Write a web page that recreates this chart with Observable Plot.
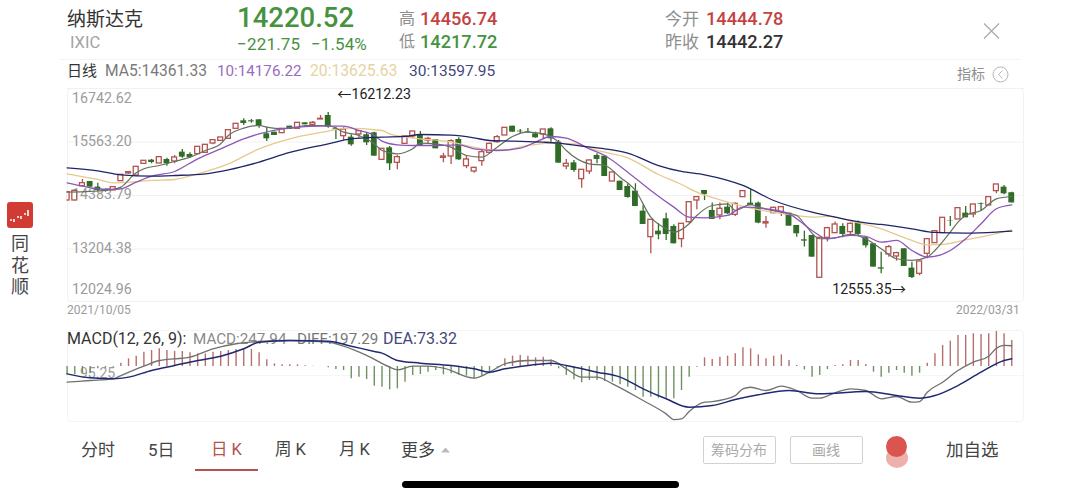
<!DOCTYPE html>
<html lang="zh">
<head>
<meta charset="utf-8">
<script src="https://cdn.jsdelivr.net/npm/d3@7"></script>
<script src="https://cdn.jsdelivr.net/npm/@observablehq/plot@0.6"></script>
<style>
html,body{margin:0;padding:0;background:#fff;width:1080px;height:499px;overflow:hidden}
body{position:relative;font-family:Roboto,"Noto Sans CJK SC",sans-serif}
.t{position:absolute;white-space:nowrap;line-height:24px;height:24px;transform:translateY(-12px)}
.box{position:absolute;box-sizing:border-box}
#main,#macd{position:absolute;left:0}
#main{top:76px}#macd{top:330px}
#main svg,#macd svg{display:block;background:transparent}
</style>
</head>
<body>
<script>
// ---- price panel data (2021/10/05 – 2022/03/31) ----
const opens=[14274,14274,14590,14693,14568,14517,14495,14700,14869,14825,15082,15163,15090,15178,15134,15340,15288,15296,15325,15531,15589,15633,15854,16030,16030,16052,15744,15780,15758,15913,15854,15986,15942,16060,16148,15854,15692,15670,15729,15722,15766,15170,15435,15104,15523,15685,15721,15596,15618,15214,15244,15618,15031,14913,15141,15325,15560,15707,15912,15802,15795,15743,15729,15854,15560,15023,15104,14744,14913,15266,15251,14693,14700,14582,14480,14039,13466,13598,13870,13701,13422,13796,14274,14495,14054,13944,14127,13958,14348,14216,14216,13767,13995,14017,13995,13723,13407,13503,12570,13451,13554,13701,13576,13782,13451,13319,12790,13084,13040,13209,12783,12658,13099,13334,13554,13819,13856,13995,13966,14201,14164,14480,14568,14444.78];
const closes=[14458,14487,14656,14568,14495,14473,14568,14840,14899,15016,15149,15112,15229,15082,15222,15229,15222,15457,15501,15604,15663,15824,15964,15971,16008,15905,15633,15707,15854,15839,15986,15942,15986,16074,15891,15832,15839,15501,15802,15545,15251,15413,15082,15229,15685,15795,15486,15633,15413,15244,15582,15170,15178,14994,15339,15523,15670,15876,15780,15787,15780,15655,15839,15633,15097,15082,14935,14950,15156,15178,14803,14891,14494,14340,14142,13745,13848,13517,13524,13319,13760,14237,14348,14407,13856,14091,13980,14201,14480,14157,13775,13797,14113,14127,13708,13540,13378,13025,13451,13664,13745,13525,13760,13525,13275,12805,12761,13246,13113,12820,12575,12930,13422,13598,13892,13811,14105,13892,14186,14186,14348,14627,14421,14220.52];
const highs=[14473,14495,14737,14693,14656,14531,14568,14840,14913,15016,15149,15178,15229,15207,15266,15398,15325,15457,15501,15604,15663,15824,15964,16074,16060,16052,15891,15780,15854,15913,15986,15986,16015,16148,16212.23,15891,15891,15722,15817,15766,15780,15413,15464,15266,15685,15795,15795,15670,15618,15317,15611,15655,15266,15009,15376,15538,15707,15876,15912,15839,15861,15780,15839,15876,15596,15178,15156,14950,15170,15302,15251,14891,14700,14641,14641,14164,13848,13760,13995,13738,13760,14237,14348,14495,14216,14216,14216,14216,14480,14509,14238,13922,14127,14142,13995,13723,13598,13503,13451,13686,13797,13760,13775,13819,13466,13319,13135,13283,13135,13209,12915,12930,13422,13598,13892,13922,14105,14142,14186,14216,14348,14627,14605,14456.74];
const lows=[14260,14260,14590,14568,14473,14458,14495,14700,14855,14825,15082,15082,15090,15031,15082,15207,15207,15296,15325,15501,15589,15633,15854,15927,15979,15869,15575,15707,15758,15839,15854,15942,15913,16060,15869,15619,15597,15472,15648,15487,15251,15170,14935,14950,15523,15633,15486,15523,15413,15104,15067,15156,14972,14876,15031,15317,15538,15707,15780,15743,15758,15648,15633,15560,15097,14950,14898,14546,14847,15082,14803,14693,14494,14325,14142,13745,13098,13407,13392,13319,13231,13774,14069,14274,13856,13848,13966,13922,14348,14157,13760,13664,13980,13922,13708,13466,13246,13025,12570,13356,13554,13451,13503,13481,13224,12805,12658,13025,12937,12820,12555.35,12614,12989,13334,13554,13701,13856,13892,13892,14039,14164,14421,14399,14217.72];

const axisValues=[16742.62,15563.20,14383.79,13204.38,12024.96];

const ma5Idx=[0,3,6,7,9,10,12,14,16,18,20,21,23,25,26,28,30,31,34,36,38,40,41,43,45,46,48,50,52,54,56,58,60,62,64,65,68,70,72,74,76,78,79,81,82,84,86,87,89,90,93,95,96,98,100,102,104,106,108,110,112,113,115,116,117,119,121,123];
const ma5Val=[14458,14473,14517,14568,14884,14972,15046,15134,15229,15376,15523,15707,15869,15927,15891,15854,15891,15927,15927,15780,15707,15523,15376,15302,15413,15538,15523,15449,15266,15229,15449,15685,15780,15743,15560,15376,15082,15045,14788,14494,13906,13649,13576,13760,13944,14164,14201,14054,14186,14127,14017,13944,13760,13430,13451,13525,13430,13209,12989,12952,13025,13172,13576,13797,13944,14054,14311,14361.33];
const ma10Idx=[0,2,4,6,7,9,11,14,17,20,23,25,28,30,33,36,38,40,41,43,45,48,51,53,56,59,61,63,65,68,70,73,76,79,81,83,86,88,91,94,97,99,102,104,106,108,110,112,115,117,119,121,123];
const ma10Val=[14664,14590,14531,14517,14531,14678,14811,14913,15193,15413,15633,15744,15854,15891,15913,15913,15817,15707,15582,15501,15486,15486,15501,15413,15376,15427,15560,15685,15648,15413,15266,14898,14494,14127,13907,13892,13944,14127,14091,13980,13613,13430,13503,13481,13356,13393,13172,13025,13172,13430,13760,14091,14176.22];
const ma20Idx=[0,4,6,8,11,14,17,21,25,29,34,36,41,42,45,50,53,55,57,60,63,66,69,73,77,80,82,85,91,94,97,99,103,106,110,112,114,117,120,123];
const ma20Val=[14862,14737,14664,14678,14715,14737,14862,15082,15413,15633,15802,15869,15817,15743,15655,15560,15449,15391,15391,15486,15538,15523,15376,15214,14847,14627,14458,14289,14039,13966,13907,13922,13782,13650,13393,13297,13305,13407,13503,13625.63];
const ma30Idx=[0,4,7,11,14,18,21,25,29,34,37,41,44,46,50,53,55,58,62,64,67,70,73,77,80,83,88,92,97,100,104,106,110,113,117,121,123];
const ma30Val=[14994,14928,14840,14811,14825,14862,14950,15119,15332,15523,15633,15670,15685,15729,15714,15655,15596,15582,15560,15538,15471,15413,15317,15045,14914,14840,14605,14274,14017,13907,13782,13745,13650,13569,13554,13576,13597.95];

// ---- MACD panel data ----
const macdBars=[-79,-79,-70,-70,-22,-16,-6,32,73,98,136,152,168,152,143,143,130,120,120,136,143,152,162,168,162,130,63,25,16,16,16,6,3,1,-13,-29,-38,-117,-101,-124,-187,-197,-222,-212,-149,-86,-76,-54,-38,-79,-70,-86,-92,-117,-92,-70,-6,73,98,105,98,82,89,63,-22,-86,-127,-155,-133,-133,-143,-149,-174,-197,-228,-292,-292,-301,-301,-307,-228,-101,-6,82,67,89,98,120,177,168,111,73,98,111,57,10,-32,-101,-86,-29,10,16,57,57,19,-54,-101,-63,-38,-63,-92,-63,32,120,200,241,295,295,311,304,311,333,311,247.94];
const diffIdx=[0,3,6,7,10,12,16,19,22,25,29,34,36,39,42,43,45,47,49,53,55,57,60,63,65,67,69,71,75,78,79,80,81,82,83,84,87,88,89,91,93,95,97,98,100,102,104,106,108,110,111,112,114,116,118,120,121,122,123];
const diffVal=[-149,-133,-117,-86,3,57,89,168,216,238,247,231,193,105,-6,-32,3,3,-16,-111,-54,25,57,57,-22,-101,-101,-165,-323,-450,-504,-498,-428,-371,-339,-333,-276,-212,-197,-228,-187,-228,-301,-301,-250,-212,-228,-307,-285,-339,-333,-244,-149,-38,41,98,174,200,197.29];
const deaIdx=[0,3,6,8,11,14,17,20,23,25,29,34,37,40,41,43,46,50,53,55,57,60,63,65,69,72,75,78,81,84,87,90,94,98,104,108,111,113,116,119,122,123];
const deaVal=[-70,-108,-117,-101,-38,10,57,98,168,231,247,241,193,143,127,57,32,10,-22,-54,-22,10,32,10,-54,-101,-212,-307,-387,-371,-314,-269,-228,-260,-238,-276,-301,-276,-181,-54,57,73.32];

// ---- labels ----
const ticksShown=["16742.62","15563.20","14383.79","13204.38","12024.96"];
const startDate="2021/10/05", endDate="2022/03/31";
const headerName="纳斯达克", headerCode="IXIC";

const colors={up:"#b2534f",down:"#2f6c27",ma5:"#66705f",ma10:"#8d57b8",ma20:"#e6c98c",ma30:"#1e2569",
  barUp:"#b4706e",barDown:"#6f9161",diff:"#6f716f",dea:"#1f2a72"};

const candles=opens.map((o,i)=>({i,o,c:closes[i],h:highs[i],l:lows[i],up:closes[i]>=o}));
const line=(idx,val)=>idx.map((x,k)=>({x,y:val[k]}));
const xDomain=[0,124.66];
const gridCol="#f1f1f1";
const axisLbl={fill:"#9b9b9b",fontSize:14.2,frameAnchor:"left",dx:5,fontFamily:"Roboto"};
const noteFont='Roboto,"Noto Sans CJK SC"';

const mainPlot=Plot.plot({
  width:1080,height:226,marginTop:12,marginBottom:0,marginLeft:66.6,marginRight:56,
  x:{domain:xDomain,axis:null},
  y:{domain:[axisValues[4],axisValues[0]],axis:null},
  marks:[
    Plot.ruleY(axisValues,{stroke:gridCol,strokeWidth:1}),
    Plot.text([0],{...axisLbl,y:()=>axisValues[0],text:()=>ticksShown[0],dy:10}),
    Plot.text([1,2,3],{...axisLbl,y:k=>axisValues[k],text:k=>ticksShown[k],dy:-1}),
    Plot.text([4],{...axisLbl,y:()=>axisValues[4],text:()=>ticksShown[4],dy:-13}),
    Plot.ruleX(candles,{x:"i",y1:"l",y2:"h",stroke:d=>d.up?colors.up:colors.down,strokeWidth:1.3,clip:true}),
    Plot.rect(candles.filter(d=>!d.up),{x1:d=>d.i-0.38,x2:d=>d.i+0.38,y1:"o",y2:"c",fill:colors.down,clip:true}),
    Plot.rect(candles.filter(d=>d.up),{x1:d=>d.i-0.32,x2:d=>d.i+0.32,y1:"o",y2:"c",fill:"#fff",stroke:colors.up,strokeWidth:1.3,clip:true}),
    Plot.line(line(ma20Idx,ma20Val),{x:"x",y:"y",stroke:colors.ma20,strokeWidth:1.3,curve:"monotone-x"}),
    Plot.line(line(ma5Idx,ma5Val),{x:"x",y:"y",stroke:colors.ma5,strokeWidth:1.2,curve:"monotone-x"}),
    Plot.line(line(ma10Idx,ma10Val),{x:"x",y:"y",stroke:colors.ma10,strokeWidth:1.3,curve:"monotone-x"}),
    Plot.line(line(ma30Idx,ma30Val),{x:"x",y:"y",stroke:colors.ma30,strokeWidth:1.3,curve:"monotone-x"}),
    Plot.text([34],{x:d=>d,y:()=>highs[34],text:()=>"←"+highs[34],textAnchor:"start",dx:9,dy:-18,fill:"#222",fontSize:14.2,fontFamily:noteFont}),
    Plot.text([110],{x:d=>d,y:()=>lows[110],text:()=>lows[110]+"→",textAnchor:"end",dx:-6,dy:11,fill:"#222",fontSize:14.2,fontFamily:noteFont})
  ]
});

const macdPlot=Plot.plot({
  width:1080,height:92,marginTop:0,marginBottom:0,marginLeft:66.6,marginRight:56,
  x:{domain:xDomain,axis:null},
  y:{domain:[-532,342],axis:null},
  marks:[
    Plot.ruleX(macdBars.map((v,i)=>({i,v})),{x:"i",y1:0,y2:"v",stroke:d=>d.v>=0?colors.barUp:colors.barDown,strokeWidth:1.4}),
    Plot.line(line(diffIdx,diffVal),{x:"x",y:"y",stroke:colors.diff,strokeWidth:1.3,curve:"monotone-x"}),
    Plot.line(line(deaIdx,deaVal),{x:"x",y:"y",stroke:colors.dea,strokeWidth:1.5,curve:"monotone-x"})
  ]
});

const add=(html)=>document.body.insertAdjacentHTML("beforeend",html);
const T=(x,y,s,size,color,extra="")=>add(`<div class="t" style="left:${x}px;top:${y}px;font-size:${size}px;color:${color};${extra}">${s}</div>`);
const BOX=(x,y,w,h,css)=>add(`<div class="box" style="left:${x}px;top:${y}px;width:${w}px;height:${h}px;${css}"></div>`);
const GREEN="#46923f", RED="#c4423f", INK="#333", GREY="#8e8e8e";

// frames
BOX(60,59,960,1,"background:#f3f3f3");
BOX(67,88,957,214,"border:1px solid #f2f2f2;border-radius:4px");
BOX(67,330,957,92,"border:1px solid #f4f4f4;border-radius:4px");
BOX(67,375,957,1,"background:#f6f6f6");

// header
T(67,20,headerName,19,INK);
T(70,43,headerCode,16.5,"#a3a3a3");
T(237,18,"14220.52",27.5,GREEN,"font-weight:500");
T(237,44,"−221.75",17,GREEN,"letter-spacing:.2px");
T(311,44,"−1.54%",17,GREEN,"letter-spacing:.1px");
T(399,19,"高",16,GREY);T(420,19,"14456.74",18.2,RED,"font-weight:500");
T(399,42,"低",16,GREY);T(420,42,"14217.72",18.2,GREEN,"font-weight:500");
T(665,19,"今开",17,GREY);T(706,19,"14444.78",18.2,RED,"font-weight:500");
T(665,42,"昨收",17,GREY);T(706,42,"14442.27",18.2,INK,"font-weight:500");
add(`<svg style="position:absolute;left:983px;top:23px" width="17" height="16"><path d="M1 0.5L16 15.5M16 0.5L1 15.5" stroke="#a9a9a9" stroke-width="1.2" fill="none"/></svg>`);
T(67,71,"日线",15,INK);
T(105,71,"MA5:14361.33",15.6,"#7a7a7a");
T(217,71,"10:14176.22",15.2,"#9a6cc0");
T(310,71,"20:13625.63",15.7,"#e6d3a3");
T(409,71,"30:13597.95",15.5,"#44477c");
T(957,74,"指标",14,GREY);
add(`<svg style="position:absolute;left:992px;top:66px" width="17" height="17"><circle cx="8.5" cy="8.5" r="7.5" stroke="#b5b5b5" fill="none"/><path d="M10.5 4.5L6.5 8.5L10.5 12.5" stroke="#b5b5b5" fill="none"/></svg>`);

// dates
T(67,310,startDate,12,"#9b9b9b");
T(956,310,endDate,12,"#9b9b9b");

// macd legend (sits under the plot)
T(67,339,"MACD(12, 26, 9):",16,"#333");
T(193,339,"MACD:247.94",15.2,"#8a8a8a");
T(297,339,"DIFF:197.29",15.2,"#777");
T(383,339,"DEA:73.32",16,"#44477c");
T(80,373,"95.25",14,"#9b9b9b");

// plots on top of the legends
const mainDiv=document.createElement("div");mainDiv.id="main";mainDiv.append(mainPlot);document.body.append(mainDiv);
const macdDiv=document.createElement("div");macdDiv.id="macd";macdDiv.append(macdPlot);document.body.append(macdDiv);

// left logo
BOX(7,202,26,26,"background:#d23b33;border-radius:3px");
add(`<svg style="position:absolute;left:9px;top:208px" width="23" height="16"><path d="M1 12h2M5 11v3M8 9h2M12 8v3M15 6h2M19 2v6" stroke="#fff" stroke-width="1.6" fill="none"/></svg>`);
T(11,244,"同",18,"#444");T(11,266,"花",18,"#444");T(11,287,"顺",18,"#444");

// bottom tabs
T(81,450,"分时",17,"#444");
T(148,450,"5日",17,"#444");
T(211,450,"日 K",16.5,"#b5524f");
BOX(195,469,63,2.2,"background:#b5524f");
T(275,450,"周 K",16.5,"#444");
T(339,450,"月 K",16.5,"#444");
T(401,450,"更多",17,"#444");
add(`<svg style="position:absolute;left:441px;top:447px" width="9" height="6"><path d="M0 5.5L4.5 0.5L9 5.5Z" fill="#bbb"/></svg>`);
BOX(402,481,277,7,"background:#000;border-radius:4px");
BOX(703,436,73,28,"border:1px solid #d2d2d2;border-radius:2px");
T(711,450,"筹码分布",14,"#a9a9a9");
BOX(790,436,73,28,"border:1px solid #d2d2d2;border-radius:2px");
T(812,450,"画线",14,"#a9a9a9");
BOX(886,448,22,20,"background:#eeb0aa;border-radius:50%");
BOX(886,436,21,21,"background:#dc5450;border-radius:50%");
T(946,450,"加自选",17.5,"#444");
</script>
</body>
</html>
